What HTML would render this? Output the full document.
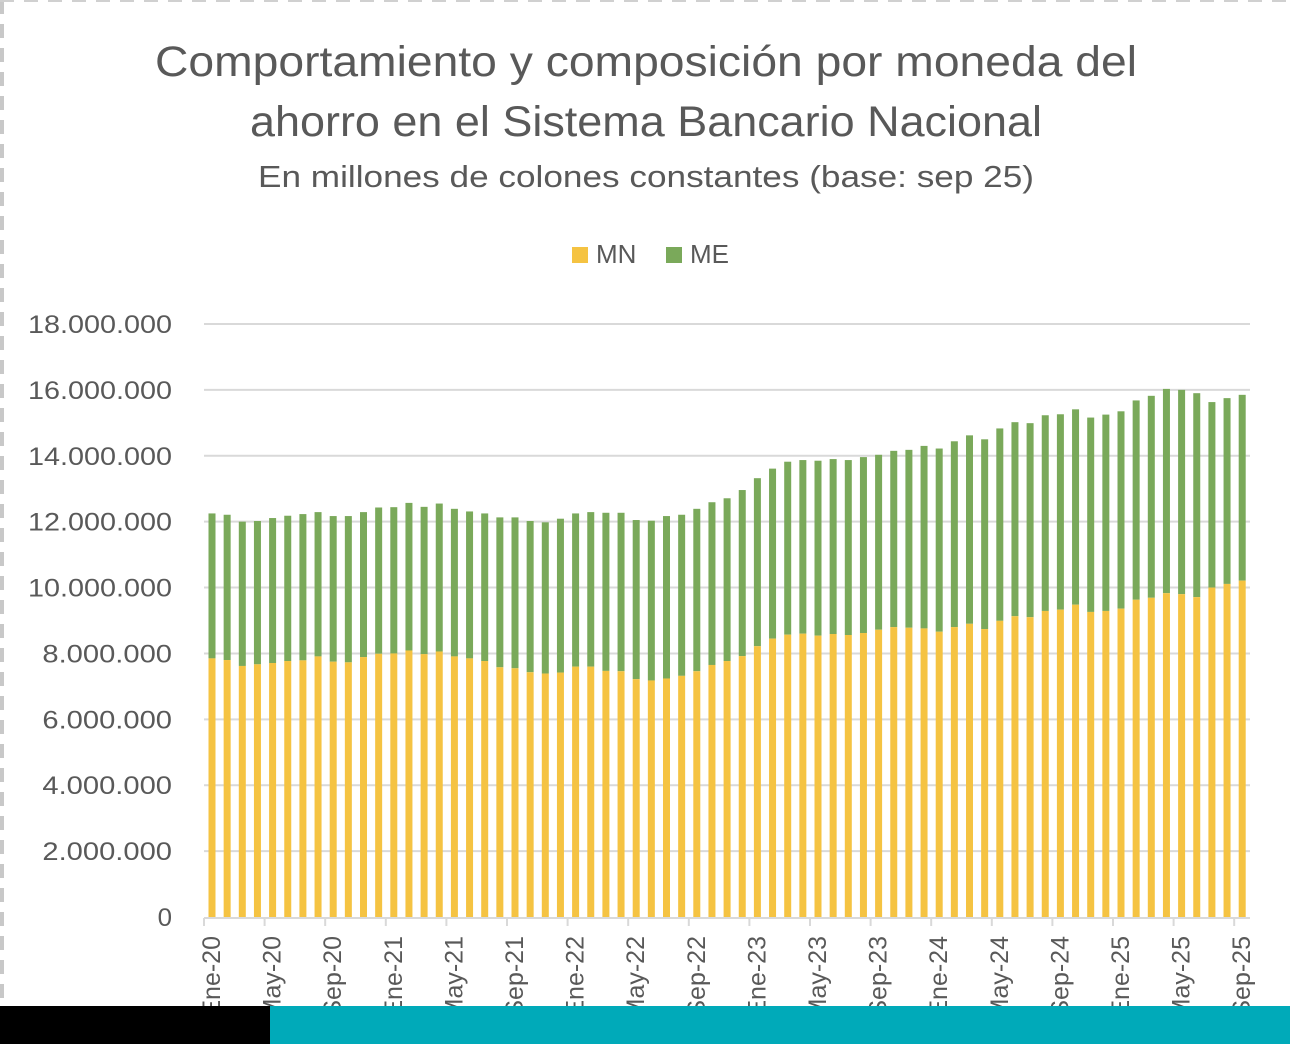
<!DOCTYPE html>
<html><head><meta charset="utf-8"><style>
html,body{margin:0;padding:0;background:#fff;}
svg{display:block;font-family:"Liberation Sans",sans-serif;}
</style></head><body>
<svg id="c" width="1290" height="1044" viewBox="0 0 1290 1044" xmlns="http://www.w3.org/2000/svg">
<rect width="1290" height="1044" fill="#fff"/>
<line x1="2" y1="0" x2="2" y2="1006" stroke="#c8c8c8" stroke-width="4" stroke-dasharray="14,10"/>
<line x1="0" y1="1" x2="1290" y2="1" stroke="#d0d0d0" stroke-width="2" stroke-dasharray="14,10"/>
<text x="155" y="76" textLength="982" lengthAdjust="spacingAndGlyphs" font-size="43" fill="#595959">Comportamiento y composición por moneda del</text>
<text x="250" y="136" textLength="792" lengthAdjust="spacingAndGlyphs" font-size="43" fill="#595959">ahorro en el Sistema Bancario Nacional</text>
<text x="258" y="187" textLength="776" lengthAdjust="spacingAndGlyphs" font-size="31" fill="#595959">En millones de colones constantes (base: sep 25)</text>
<rect x="572" y="247" width="16" height="16" fill="#f5c342"/>
<text x="596" y="263" font-size="26" fill="#595959">MN</text>
<rect x="666" y="247" width="16" height="16" fill="#7aa95a"/>
<text x="690" y="263" font-size="26" fill="#595959">ME</text>
<g id="grid"></g>
<g id="bars"></g>
<g id="xl"></g>
<rect x="0" y="1006" width="270" height="38" fill="#000"/>
<rect x="270" y="1006" width="1020" height="38" fill="#00aab9"/>
</svg>
<script>
var tot=[12.25,12.21,12.0,12.02,12.11,12.18,12.23,12.29,12.17,12.17,12.29,12.43,12.44,12.57,12.45,12.55,12.39,12.31,12.25,12.13,12.13,12.02,11.98,12.09,12.25,12.29,12.27,12.27,12.05,12.03,12.17,12.21,12.39,12.59,12.71,12.96,
13.32,13.61,13.82,13.87,13.85,13.90,13.87,13.96,14.03,14.15,14.18,14.30,14.22,14.44,14.62,14.50,14.83,15.02,14.99,15.23,15.26,15.41,15.16,15.25,15.35,15.68,15.82,16.03,16.0,15.90,15.63,15.75,15.85];
var mn=[7.85,7.80,7.62,7.67,7.71,7.77,7.79,7.91,7.75,7.73,7.89,7.99,8.0,8.09,7.98,8.06,7.91,7.85,7.77,7.58,7.55,7.43,7.39,7.42,7.60,7.60,7.47,7.46,7.22,7.18,7.24,7.32,7.46,7.65,7.77,
7.92,8.22,8.45,8.57,8.60,8.54,8.59,8.56,8.62,8.72,8.80,8.78,8.76,8.66,8.80,8.90,8.74,8.99,9.13,9.10,9.29,9.33,9.48,9.26,9.29,9.36,9.63,9.69,9.83,9.80,9.71,10.0,10.11,10.21];
var NS="http://www.w3.org/2000/svg";
function el(t,a,p,txt){var e=document.createElementNS(NS,t);for(var k in a)e.setAttribute(k,a[k]);if(txt!=null)e.textContent=txt;document.getElementById(p).appendChild(e);return e;}
function Y(v){return 917-v/18*593;}
var labs=["18.000.000","16.000.000","14.000.000","12.000.000","10.000.000","8.000.000","6.000.000","4.000.000","2.000.000","0"];
for(var i=0;i<=9;i++){var v=18-2*i,y=Y(v);
 if(v>0)el("line",{x1:204,x2:1250,y1:y,y2:y,stroke:"#d9d9d9","stroke-width":2},"grid");
 var n=labs[i].length, w=n*14.4;
 el("text",{x:172-w,y:y+9,textLength:w,lengthAdjust:"spacingAndGlyphs","font-size":25,fill:"#595959"},"grid",labs[i]);}
el("line",{x1:204,x2:1250,y1:918,y2:918,stroke:"#d9d9d9","stroke-width":2},"grid");
for(var i=0;i<69;i++){var cx=212+15.15*i;
 el("rect",{x:cx-3.5,y:Y(tot[i]),width:7,height:Y(mn[i])-Y(tot[i]),fill:"#7aa95a"},"bars");
 el("rect",{x:cx-3.5,y:Y(mn[i]),width:7,height:917-Y(mn[i]),fill:"#f5c342"},"bars");}
for(var j=0;j<=17;j++){var tx=204+60.6*j;
 el("line",{x1:tx,x2:tx,y1:918,y2:926,stroke:"#d9d9d9","stroke-width":2},"xl");
 var i=j*4,cx=212+15.15*i;
 var yr=20+Math.floor(i/12),m=["Ene","Feb","Mar","Abr","May","Jun","Jul","Ago","Sep","Oct","Nov","Dic"][i%12];
 el("text",{x:0,y:0,"text-anchor":"end","font-size":25,fill:"#595959",transform:"translate("+(cx+8)+",936) rotate(-90)"},"xl",m+"-"+yr);}
</script>
</body></html>
